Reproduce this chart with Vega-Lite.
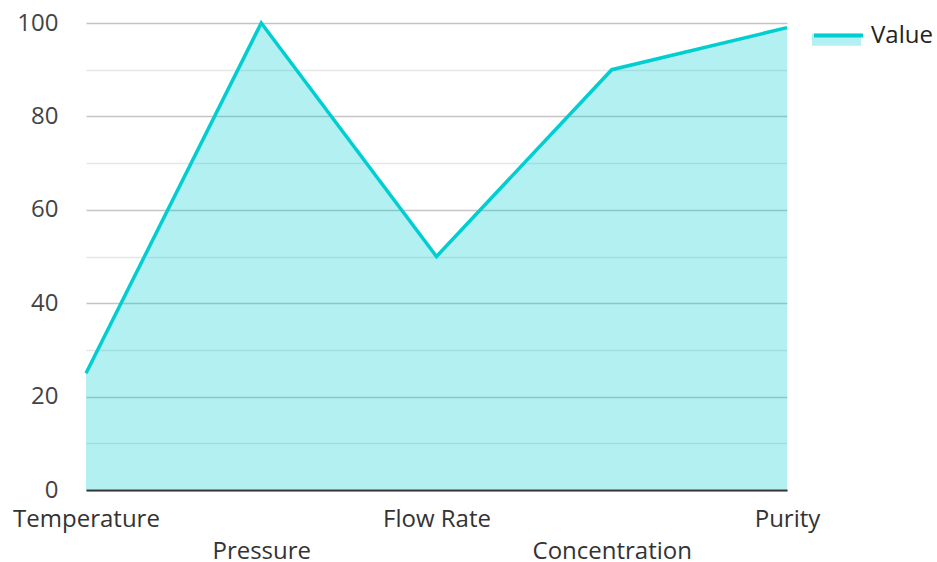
{
  "$schema": "https://vega.github.io/schema/vega-lite/v6.json",
  "width": 701,
  "height": 467,
  "autosize": "none",
  "padding": {"left": 86, "top": 23, "right": 150, "bottom": 72},
  "background": "white",
  "config": {
    "font": "Open Sans",
    "view": {"stroke": null}
  },
  "data": {
    "values": [
      {"category": "Temperature", "value": 25, "series": "Value", "areaSeries": "Value"},
      {"category": "Pressure", "value": 100, "series": "Value", "areaSeries": "Value"},
      {"category": "Flow Rate", "value": 50, "series": "Value", "areaSeries": "Value"},
      {"category": "Concentration", "value": 90, "series": "Value", "areaSeries": "Value"},
      {"category": "Purity", "value": 99, "series": "Value", "areaSeries": "Value"}
    ]
  },
  "encoding": {
    "x": {
      "field": "category",
      "type": "ordinal",
      "sort": null,
      "scale": {"type": "point", "padding": 0},
      "axis": {
        "title": null,
        "labelAngle": 0,
        "labelFontSize": 24,
        "labelColor": "#333333",
        "labelPadding": 17,
        "labelLineHeight": 32,
        "labelExpr": "(datum.label == 'Pressure' || datum.label == 'Concentration') ? ['', datum.label] : datum.label",
        "labelOverlap": false,
        "labelBound": false,
        "ticks": false,
        "grid": false,
        "domainColor": "#333333",
        "domainWidth": 2
      }
    },
    "y": {
      "field": "value",
      "type": "quantitative",
      "scale": {"domain": [0, 100], "nice": false},
      "axis": {
        "title": null,
        "values": [0, 10, 20, 30, 40, 50, 60, 70, 80, 90, 100],
        "labelExpr": "datum.value % 20 === 0 ? datum.label : ''",
        "labelFontSize": 24,
        "labelColor": "#444444",
        "labelPadding": 28,
        "ticks": false,
        "domain": false,
        "grid": true,
        "gridColor": {"expr": "datum.value % 20 === 0 ? '#c4c4c4' : '#e6e6e6'"},
        "gridWidth": 1.5,
        "zindex": 0
      }
    }
  },
  "layer": [
    {
      "mark": {"type": "area", "fillOpacity": 0.3, "interpolate": "linear"},
      "encoding": {
        "fill": {
          "field": "areaSeries",
          "type": "nominal",
          "scale": {"range": ["#00CED1"]},
          "legend": {
            "title": null,
            "orient": "none",
            "legendX": 726,
            "legendY": -14,
            "symbolType": "M-1,0H1V0.5H-1Z",
            "symbolSize": 2401,
            "symbolOpacity": 0.3,
            "symbolStrokeWidth": 0,
            "labelExpr": "''",
            "labelFontSize": 24
          }
        }
      }
    },
    {
      "mark": {"type": "line", "strokeWidth": 3.5, "interpolate": "linear"},
      "encoding": {
        "stroke": {
          "field": "series",
          "type": "nominal",
          "scale": {"range": ["#00CED1"]},
          "legend": {
            "title": null,
            "orient": "none",
            "legendX": 726,
            "legendY": -14,
            "symbolType": "stroke",
            "symbolSize": 2401,
            "symbolStrokeWidth": 4,
            "labelFontSize": 24,
            "labelColor": "#222222",
            "labelOffset": 6
          }
        }
      }
    }
  ]
}
